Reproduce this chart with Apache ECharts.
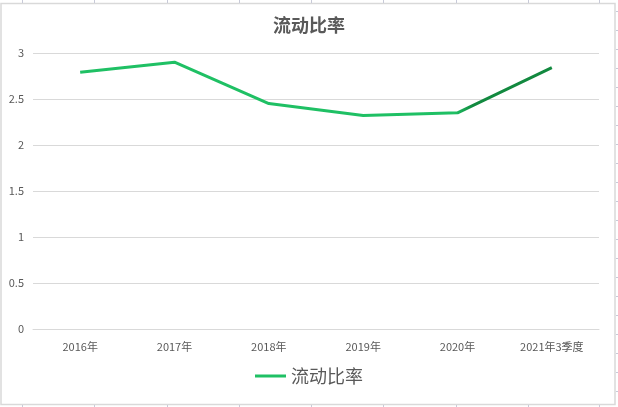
<!DOCTYPE html>
<html>
<head>
<meta charset="utf-8">
<script src="https://cdn.jsdelivr.net/npm/echarts@6/dist/echarts.min.js"></script>
<style>
html,body{margin:0;padding:0;background:#fff;}
#c{width:618px;height:407px;}
</style>
</head>
<body>
<div id="c"></div>
<script>
var categories = ['2016年','2017年','2018年','2019年','2020年','2021年3季度'];
var seriesName = '流动比率';
var values = [2.79, 2.90, 2.45, 2.32, 2.35, 2.84];
var yTicks = [0, 0.5, 1, 1.5, 2, 2.5, 3];

var chart = echarts.init(document.getElementById('c'), null, {renderer:'canvas'});
var txt = '#595959';
var font = '"Microsoft YaHei","Noto Sans CJK SC",sans-serif';
var light = '#1fc064', dark = '#12893f';

// decorative spreadsheet border & cell marks
var deco = [];
deco.push({type:'rect', shape:{x:1, y:3.5, width:614, height:401}, style:{fill:'none', stroke:'#d9d9d9', lineWidth:1.5}, silent:true, z:-1});
[22,94,167,239,311,383,456,528,599].forEach(function(x){
  deco.push({type:'line', shape:{x1:x+0.5,y1:0,x2:x+0.5,y2:3}, style:{stroke:'#c8cad8', lineWidth:1}, silent:true});
  deco.push({type:'line', shape:{x1:x+0.5,y1:405,x2:x+0.5,y2:407}, style:{stroke:'#c8cad8', lineWidth:1}, silent:true});
});
for (var yy=11; yy<407; yy+=19) {
  deco.push({type:'line', shape:{x1:616,y1:yy+0.5,x2:618,y2:yy+0.5}, style:{stroke:'#c8cad8', lineWidth:1}, silent:true});
}

var grad = new echarts.graphic.LinearGradient(0,0,1,0,[
  {offset:0, color:light},{offset:0.79, color:light},{offset:0.83, color:dark},{offset:1, color:dark}
]);

chart.setOption({
  backgroundColor:'#fff',
  animation:false,
  title:{text:'流动比率', left:'center', top:11, textStyle:{color:txt, fontSize:18, fontWeight:'bold', fontFamily:font}},
  legend:{bottom:17, left:250, itemWidth:31, itemHeight:3, itemGap:6,
    data:[{name:seriesName, icon:'rect', itemStyle:{color:light}}],
    textStyle:{color:txt, fontSize:18, fontFamily:font}},
  grid:{left:33, right:19, top:53, bottom:78},
  xAxis:{type:'category', data:categories, boundaryGap:true,
    axisLine:{show:true, lineStyle:{color:'#d9d9d9'}}, axisTick:{show:false},
    axisLabel:{color:txt, fontSize:11, margin:12, fontFamily:font, interval:0}},
  yAxis:{type:'value', min:0, max:3, interval:0.5,
    axisLine:{show:false}, axisTick:{show:false},
    splitLine:{lineStyle:{color:'#d9d9d9'}},
    axisLabel:{color:txt, fontSize:11, margin:9, fontFamily:font, formatter:function(v){return String(v);}}},
  series:[{name:seriesName, type:'line', data:values, symbol:'none', color:light,
    lineStyle:{width:3, color:grad}}]
});
chart.setOption({graphic:deco});
</script>
</body>
</html>
